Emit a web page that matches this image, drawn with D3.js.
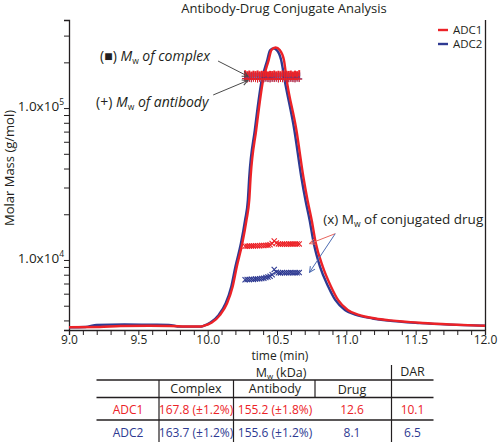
<!DOCTYPE html>
<html>
<head>
<meta charset="utf-8">
<script src="https://cdn.jsdelivr.net/npm/d3@7"></script>
<style>
  body { margin: 0; background: #fff; }
  svg { font-family: "Open Sans", sans-serif; }
</style>
</head>
<body>
<svg id="chart" width="500" height="442"></svg>
<script>
// chromatogram traces (time in min, signal expressed on the molar mass axis)
const adc1Time = [9.00, 9.22, 9.37, 9.58, 9.73, 9.87, 9.95, 9.97, 10.03, 10.09, 10.14, 10.18, 10.21, 10.25, 10.28, 10.30, 10.31, 10.35, 10.40, 10.44, 10.46, 10.49, 10.52, 10.55, 10.57, 10.64, 10.69, 10.72, 10.75, 10.78, 10.83, 10.89, 10.94, 11.01, 11.09, 11.21, 11.32, 11.55, 11.75, 12.00];
const adc1Signal = [3610, 3625, 3680, 3690, 3680, 3645, 3650, 3680, 3870, 4350, 5190, 6670, 9040, 12880, 18340, 24810, 35320, 71660, 152900, 207000, 240800, 250700, 240800, 207000, 152900, 71660, 35320, 24810, 18340, 12880, 9040, 6670, 5460, 4690, 4350, 4120, 4000, 3850, 3765, 3690];

const adc2Time = [9.00, 9.12, 9.20, 9.40, 9.60, 9.72, 9.80, 9.95, 9.97, 10.02, 10.08, 10.13, 10.17, 10.20, 10.24, 10.27, 10.29, 10.30, 10.34, 10.39, 10.43, 10.45, 10.475, 10.50, 10.53, 10.555, 10.625, 10.675, 10.705, 10.735, 10.765, 10.81, 10.87, 10.92, 10.99, 11.07, 11.19, 11.30, 11.53, 11.74, 12.00];
const adc2Signal = [3600, 3620, 3740, 3760, 3750, 3740, 3640, 3640, 3680, 3870, 4350, 5190, 6670, 9040, 12880, 18340, 24810, 35320, 71660, 152900, 207000, 240000, 247000, 240000, 207000, 152900, 71660, 35320, 24810, 18340, 12880, 9040, 6670, 5460, 4690, 4350, 4120, 3990, 3840, 3755, 3690];

// Mw markers across the peak
const markerTime = [10.27, 10.285, 10.30, 10.315, 10.33, 10.345, 10.36, 10.375, 10.39, 10.405, 10.42, 10.435, 10.45, 10.465, 10.48, 10.495, 10.51, 10.525, 10.54, 10.555, 10.57, 10.585, 10.60, 10.615, 10.63, 10.645, 10.66];
const adc1Complex = [169500, 167000, 168800, 166200, 168400, 167300, 169000, 166800, 168200, 167600, 169200, 166500, 168000, 167400, 168900, 166900, 168300, 167100, 169300, 166600, 168100, 167800, 168700, 166400, 168500, 167200, 169800];
const adc1Antibody = [156200, 154300, 155600, 154800, 156400, 155000, 154100, 155900, 155300, 154600, 156100, 155100, 154400, 155700, 155200, 156300, 154200, 155500, 154900, 156000, 155400, 154700, 155800, 155000, 154500, 156100, 155200];
const adc2Complex = [165000, 162900, 164300, 163100, 164600, 162800, 163900, 164400, 163300, 162700, 164800, 163500, 164100, 163000, 163800, 164500, 162900, 164200, 163400, 163700, 164700, 163200, 164000, 162800, 163600, 164300, 163900];
const adc2Antibody = [156500, 154900, 155800, 155100, 156300, 155400, 154700, 156000, 155600, 155000, 156400, 155300, 154800, 156100, 155500, 156200, 154900, 155700, 155200, 156000, 155800, 155100, 155900, 155400, 154800, 156300, 155600];
const adc1Drug = [12300, 12330, 12350, 12340, 12380, 12400, 12390, 12420, 12450, 12440, 12480, 12520, 12600, 12850, 13350, 12950, 12760, 12700, 12720, 12750, 12700, 12740, 12760, 12720, 12750, 12730, 12760];
const adc2Drug = [7420, 7430, 7440, 7460, 7450, 7490, 7510, 7530, 7550, 7590, 7660, 7730, 7820, 8000, 8650, 8320, 8250, 8220, 8260, 8240, 8250, 8230, 8260, 8250, 8240, 8250, 8260];

// axis ticks
const xTickLabels = [9.0, 9.5, 10.0, 10.5, 11.0, 11.5, 12.0];
const yMajorTicks = [1e4, 1e5];
const yMinorTicks = [4000, 5000, 6000, 7000, 8000, 9000, 20000, 30000, 40000, 50000, 60000, 70000, 80000, 90000, 200000, 300000];

// table
const seriesNames = ["ADC1", "ADC2"];
const tableHeaders = ["Complex", "Antibody", "Drug"];
const complexMw = ["167.8 (\u00b11.2%)", "163.7 (\u00b11.2%)"];
const antibodyMw = ["155.2 (\u00b11.8%)", "155.6 (\u00b11.2%)"];
const drugMw = ["12.6", "8.1"];
const darValues = ["10.1", "6.5"];

const RED = "#ec2227";
const BLUE = "#2e3a92";
const TEXT = "#231f20";

const svg = d3.select("#chart");

const x = d3.scaleLinear().domain([9, 12]).range([69, 485]);
const y = d3.scaleLog().domain([3460, 380000]).range([330, 20]);

// Title
svg.append("text")
    .attr("x", 284)
    .attr("y", 13)
    .attr("text-anchor", "middle")
    .attr("font-size", "13px")
    .attr("fill", TEXT)
    .text("Antibody-Drug Conjugate Analysis");

// Axes
const xAxis = d3.axisBottom(x)
    .tickValues(d3.range(90, 121).map(d => d / 10))
    .tickSize(5)
    .tickPadding(0)
    .tickFormat(d => xTickLabels.some(v => Math.abs(v - d) < 1e-6) ? d.toFixed(1) : "");

const gx = svg.append("g")
    .attr("transform", "translate(0,330)")
    .call(xAxis);
gx.select(".domain").attr("stroke", TEXT).attr("stroke-width", 1.3);
gx.selectAll(".tick line").attr("stroke", TEXT);
gx.selectAll("text").attr("font-size", "12px").attr("fill", TEXT).attr("font-family", "Open Sans, sans-serif");

const gy = svg.append("g")
    .attr("transform", "translate(69,0)")
    .call(d3.axisLeft(y).tickValues(yMinorTicks.concat(yMajorTicks)).tickSize(5).tickFormat(""));
gy.select(".domain").attr("stroke", TEXT).attr("stroke-width", 1.3);
gy.selectAll(".tick line").attr("stroke", TEXT);

// y labels with superscript exponent
for (const v of yMajorTicks) {
    const t = svg.append("text")
        .attr("x", 64)
        .attr("y", y(v) + 3)
        .attr("text-anchor", "end")
        .attr("font-size", "13.5px")
        .attr("fill", TEXT);
    t.append("tspan").text("1.0x10");
    t.append("tspan").attr("dy", -6).attr("font-size", "8.5px").text(Math.round(Math.log10(v)));
}

// right frame
svg.append("line")
    .attr("x1", 485.5).attr("x2", 485.5)
    .attr("y1", y.range()[1]).attr("y2", 330)
    .attr("stroke", TEXT).attr("stroke-width", 1.3);

// Axis titles
svg.append("text")
    .attr("x", 280)
    .attr("y", 360)
    .attr("text-anchor", "middle")
    .attr("font-size", "12px")
    .attr("fill", TEXT)
    .text("time (min)");

svg.append("text")
    .attr("transform", "translate(14,168) rotate(-90)")
    .attr("text-anchor", "middle")
    .attr("font-size", "13px")
    .attr("fill", TEXT)
    .text("Molar Mass (g/mol)");

// Traces
const line = d3.line()
    .x(d => x(d[0]))
    .y(d => y(d[1]))
    .curve(d3.curveMonotoneX);

svg.append("path")
    .datum(adc2Time.map((t, i) => [t, adc2Signal[i]]))
    .attr("d", line)
    .attr("fill", "none")
    .attr("stroke", BLUE)
    .attr("stroke-width", 2.4);

svg.append("path")
    .datum(adc1Time.map((t, i) => [t, adc1Signal[i]]))
    .attr("d", line)
    .attr("fill", "none")
    .attr("stroke", RED)
    .attr("stroke-width", 2.4);

// Markers
function drawSquares(values, color) {
    svg.append("g").selectAll("rect")
      .data(values)
      .enter()
      .append("rect")
      .attr("x", (d, i) => x(markerTime[i]) - 1)
      .attr("y", d => y(d) - 3)
      .attr("width", 2)
      .attr("height", 6)
      .attr("fill", color);
}

function drawPluses(values, color) {
    svg.append("g").selectAll("path")
      .data(values)
      .enter()
      .append("path")
      .attr("d", (d, i) => {
          const cx = x(markerTime[i]), cy = y(d);
          return `M${cx - 3},${cy}H${cx + 3}M${cx},${cy - 3}V${cy + 3}`;
      })
      .attr("stroke", color)
      .attr("stroke-width", 1);
}

function drawCrosses(values, color) {
    svg.append("g").selectAll("path")
      .data(values)
      .enter()
      .append("path")
      .attr("d", (d, i) => {
          const cx = x(markerTime[i]), cy = y(d);
          return `M${cx - 2.6},${cy - 2.6}L${cx + 2.6},${cy + 2.6}M${cx - 2.6},${cy + 2.6}L${cx + 2.6},${cy - 2.6}`;
      })
      .attr("stroke", color)
      .attr("stroke-width", 1.1);
}

drawSquares(adc2Complex, BLUE);
drawPluses(adc2Antibody, BLUE);
drawSquares(adc1Complex, RED);
drawPluses(adc1Antibody, RED);
drawCrosses(adc2Drug, BLUE);
drawCrosses(adc1Drug, RED);

// Legend
const legend = svg.append("g");
[["ADC1", RED], ["ADC2", BLUE]].forEach(([name, color], i) => {
    legend.append("line")
        .attr("x1", 438).attr("x2", 448)
        .attr("y1", 30 + i * 14).attr("y2", 30 + i * 14)
        .attr("stroke", color).attr("stroke-width", 2.4);
    legend.append("text")
        .attr("x", 453).attr("y", 34 + i * 14)
        .attr("font-size", "11.5px").attr("fill", TEXT)
        .text(name);
});

// Arrow heads
const defs = svg.append("defs");
[["arrowDark", "#4a4a4a"], ["arrowRed", "#e8665e"], ["arrowBlue", "#4d6cb2"]].forEach(([id, c]) => {
    defs.append("marker")
        .attr("id", id)
        .attr("viewBox", "0 0 10 10")
        .attr("refX", 9).attr("refY", 5)
        .attr("markerWidth", 7).attr("markerHeight", 7)
        .attr("orient", "auto")
        .append("path")
        .attr("d", "M1,1L9,5L1,9")
        .attr("fill", "none")
        .attr("stroke", c)
        .attr("stroke-width", 1.5);
});

function arrow(t0, v0, t1, v1, id, color) {
    svg.append("line")
        .attr("x1", x(t0)).attr("y1", y(v0))
        .attr("x2", x(t1)).attr("y2", y(v1))
        .attr("stroke", color).attr("stroke-width", 1)
        .attr("marker-end", `url(#${id})`);
}

// Annotations
function mwLabel(px, py, prefix, rest, italic, size) {
    const t = svg.append("text")
        .attr("x", px).attr("y", py)
        .attr("font-size", size).attr("fill", TEXT);
    t.append("tspan").text(prefix + " ");
    t.append("tspan").attr("font-style", italic ? "italic" : "normal").text("M");
    t.append("tspan").attr("font-size", "8.5px").attr("dy", 3).text("w");
    t.append("tspan").attr("dy", -3).attr("font-style", italic ? "italic" : "normal").text(" " + rest);
}

mwLabel(x(9.224), y(203000), "(\u25A0)", "of complex", true, "14px");
mwLabel(x(9.195), y(102000), "(+)", "of antibody", true, "14px");
mwLabel(x(10.834), y(17200), "(x)", "of conjugated drug", false, "13.5px");

arrow(10.075, 204000, 10.29, 162000, "arrowDark", "#4a4a4a");
arrow(10.04, 122000, 10.29, 152000, "arrowDark", "#4a4a4a");
arrow(10.92, 14900, 10.735, 12800, "arrowRed", "#e8665e");
arrow(10.92, 14900, 10.735, 8300, "arrowBlue", "#4d6cb2");

// Table
const tbl = svg.append("g");
const hLines = [380, 397.5, 420];
const tableLeft = 96.5, tableRight = 433.5;
const colEdges = [159, 233.5, 315, 391.5];
const colCenters = [128, 196, 275, 352, 412.5];

hLines.forEach(hy => {
    tbl.append("line")
        .attr("x1", tableLeft).attr("x2", tableRight)
        .attr("y1", hy).attr("y2", hy)
        .attr("stroke", TEXT).attr("stroke-width", 1.5);
});
// header row dividers
colEdges.slice(0, 3).forEach(cx => {
    tbl.append("line")
        .attr("x1", cx).attr("x2", cx)
        .attr("y1", 380).attr("y2", 397.5)
        .attr("stroke", TEXT).attr("stroke-width", 1.2);
});
// body dividers
colEdges.slice(0, 2).forEach(cx => {
    tbl.append("line")
        .attr("x1", cx).attr("x2", cx)
        .attr("y1", 397.5).attr("y2", 442)
        .attr("stroke", TEXT).attr("stroke-width", 1.2);
});
tbl.append("line")
    .attr("x1", colEdges[3]).attr("x2", colEdges[3])
    .attr("y1", 365).attr("y2", 442)
    .attr("stroke", TEXT).attr("stroke-width", 1.2);

const mwHead = tbl.append("text")
    .attr("x", 281).attr("y", 377)
    .attr("text-anchor", "middle")
    .attr("font-size", "12.5px").attr("fill", TEXT);
mwHead.append("tspan").text("M");
mwHead.append("tspan").attr("font-size", "8px").attr("dy", 2).text("w");
mwHead.append("tspan").attr("dy", -2).text(" (kDa)");

tbl.append("text")
    .attr("x", colCenters[4]).attr("y", 376)
    .attr("text-anchor", "middle")
    .attr("font-size", "12.5px").attr("fill", TEXT)
    .text("DAR");

tableHeaders.forEach((h, i) => {
    tbl.append("text")
        .attr("x", colCenters[i + 1]).attr("y", i === 2 ? 394 : 392.5)
        .attr("text-anchor", "middle")
        .attr("font-size", "12.5px").attr("fill", TEXT)
        .text(h);
});

const rowColors = [RED, BLUE];
const rowBaselines = [413.5, 436.5];
seriesNames.forEach((name, r) => {
    const cells = [name, complexMw[r], antibodyMw[r], drugMw[r], darValues[r]];
    cells.forEach((c, i) => {
        tbl.append("text")
            .attr("x", colCenters[i]).attr("y", rowBaselines[r])
            .attr("text-anchor", "middle")
            .attr("font-size", "12px")
            .attr("fill", rowColors[r])
            .text(c);
    });
});
</script>
</body>
</html>
